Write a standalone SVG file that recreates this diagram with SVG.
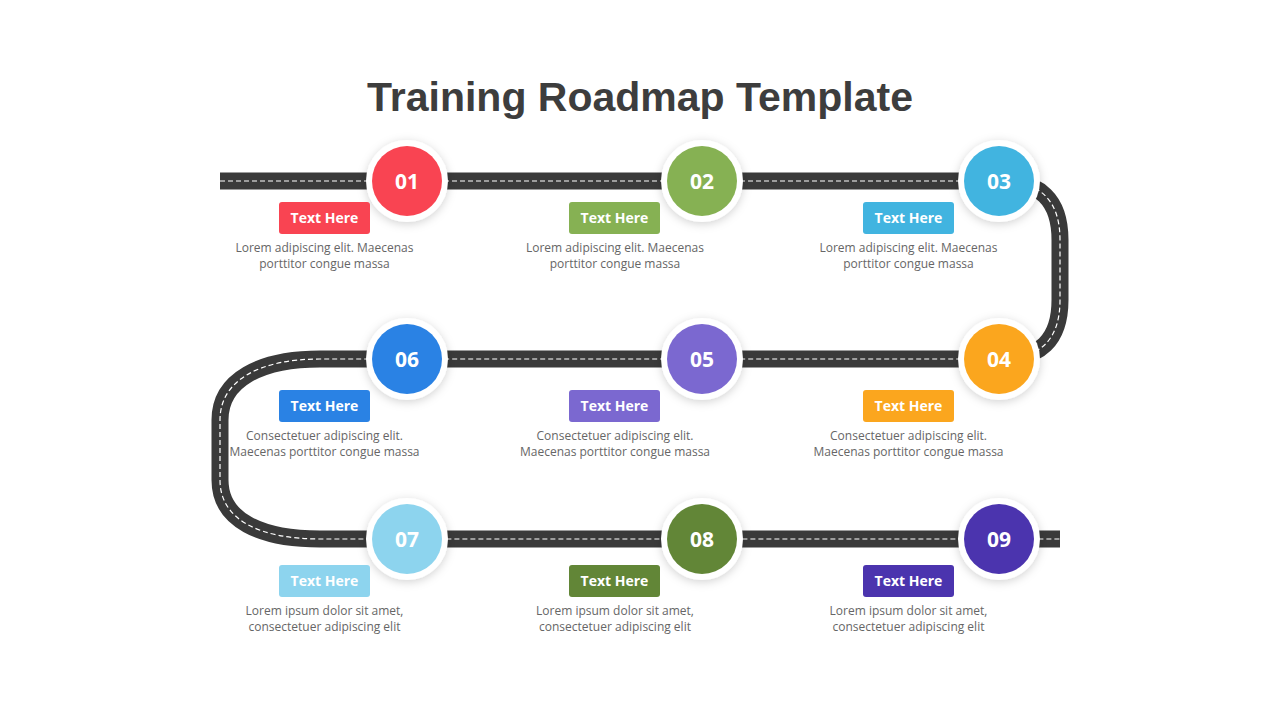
<svg xmlns="http://www.w3.org/2000/svg" width="1280" height="720" viewBox="0 0 1280 720">
<defs>
<filter id="sh" x="-50%" y="-50%" width="200%" height="200%"><feDropShadow dx="0" dy="2" stdDeviation="5" flood-color="#000" flood-opacity="0.18"/></filter>
<style>
.title{font-family:"Liberation Sans",Arial,sans-serif;font-weight:bold;font-size:41px;fill:#3d3d3d}
.num{font-family:"Open Sans","Noto Sans",sans-serif;font-weight:bold;font-size:21px;fill:#fff}
.lbl{font-family:"Open Sans","Noto Sans",sans-serif;font-weight:bold;font-size:14px;fill:#fff}
.desc{font-family:"Open Sans","Noto Sans",sans-serif;font-size:12px;fill:#666}
.ring{fill:#fff;filter:url(#sh)}
</style>
</defs>
<rect width="1280" height="720" fill="#fff"/>
<text class="title" x="640" y="111" text-anchor="middle">Training Roadmap Template</text>
<g id="connectors" fill="none">
<path id="road" d="M220 181 H1000 C1040 181 1060 200 1060 240 V300 C1060 340 1040 359 1000 359 H320 C260 359 220 380 220 420 V480 C220 520 260 539 320 539 H1060" stroke="#3a3a3a" stroke-width="17"/>
<path d="M220 181 H1000 C1040 181 1060 200 1060 240 V300 C1060 340 1040 359 1000 359 H320 C260 359 220 380 220 420 V480 C220 520 260 539 320 539 H1060" stroke="#fff" stroke-width="1.2" stroke-dasharray="5 3"/>
</g>
<g id="n1"><circle class="ring" cx="407" cy="181" r="41"/><circle cx="407" cy="181" r="35" fill="#F94452"/><text class="num" x="407" y="189" text-anchor="middle">01</text><rect x="279" y="202" width="91" height="32" rx="3" fill="#F94452"/><text class="lbl" x="324.5" y="223" text-anchor="middle">Text Here</text><text class="desc" x="324.5" y="252" text-anchor="middle">Lorem adipiscing elit. Maecenas</text><text class="desc" x="324.5" y="268" text-anchor="middle">porttitor congue massa</text></g>
<g id="n2"><circle class="ring" cx="702" cy="181" r="41"/><circle cx="702" cy="181" r="35" fill="#86B153"/><text class="num" x="702" y="189" text-anchor="middle">02</text><rect x="569" y="202" width="91" height="32" rx="3" fill="#86B153"/><text class="lbl" x="614.5" y="223" text-anchor="middle">Text Here</text><text class="desc" x="615" y="252" text-anchor="middle">Lorem adipiscing elit. Maecenas</text><text class="desc" x="615" y="268" text-anchor="middle">porttitor congue massa</text></g>
<g id="n3"><circle class="ring" cx="999" cy="181" r="41"/><circle cx="999" cy="181" r="35" fill="#41B4E0"/><text class="num" x="999" y="189" text-anchor="middle">03</text><rect x="863" y="202" width="91" height="32" rx="3" fill="#41B4E0"/><text class="lbl" x="908.5" y="223" text-anchor="middle">Text Here</text><text class="desc" x="908.5" y="252" text-anchor="middle">Lorem adipiscing elit. Maecenas</text><text class="desc" x="908.5" y="268" text-anchor="middle">porttitor congue massa</text></g>
<g id="n4"><circle class="ring" cx="999" cy="359" r="41"/><circle cx="999" cy="359" r="35" fill="#FBA61E"/><text class="num" x="999" y="367" text-anchor="middle">04</text><rect x="863" y="390" width="91" height="32" rx="3" fill="#FBA61E"/><text class="lbl" x="908.5" y="411" text-anchor="middle">Text Here</text><text class="desc" x="908.5" y="440" text-anchor="middle">Consectetuer  adipiscing elit.</text><text class="desc" x="908.5" y="456" text-anchor="middle">Maecenas porttitor congue massa</text></g>
<g id="n5"><circle class="ring" cx="702" cy="359" r="41"/><circle cx="702" cy="359" r="35" fill="#7B68D0"/><text class="num" x="702" y="367" text-anchor="middle">05</text><rect x="569" y="390" width="91" height="32" rx="3" fill="#7B68D0"/><text class="lbl" x="614.5" y="411" text-anchor="middle">Text Here</text><text class="desc" x="615" y="440" text-anchor="middle">Consectetuer  adipiscing elit.</text><text class="desc" x="615" y="456" text-anchor="middle">Maecenas porttitor congue massa</text></g>
<g id="n6"><circle class="ring" cx="407" cy="359" r="41"/><circle cx="407" cy="359" r="35" fill="#2A82E4"/><text class="num" x="407" y="367" text-anchor="middle">06</text><rect x="279" y="390" width="91" height="32" rx="3" fill="#2A82E4"/><text class="lbl" x="324.5" y="411" text-anchor="middle">Text Here</text><text class="desc" x="324.5" y="440" text-anchor="middle">Consectetuer  adipiscing elit.</text><text class="desc" x="324.5" y="456" text-anchor="middle">Maecenas porttitor congue massa</text></g>
<g id="n7"><circle class="ring" cx="407" cy="539" r="41"/><circle cx="407" cy="539" r="35" fill="#8DD4EE"/><text class="num" x="407" y="547" text-anchor="middle">07</text><rect x="279" y="565" width="91" height="32" rx="3" fill="#8DD4EE"/><text class="lbl" x="324.5" y="586" text-anchor="middle">Text Here</text><text class="desc" x="324.5" y="615" text-anchor="middle">Lorem ipsum dolor sit amet,</text><text class="desc" x="324.5" y="631" text-anchor="middle">consectetuer  adipiscing elit</text></g>
<g id="n8"><circle class="ring" cx="702" cy="539" r="41"/><circle cx="702" cy="539" r="35" fill="#628637"/><text class="num" x="702" y="547" text-anchor="middle">08</text><rect x="569" y="565" width="91" height="32" rx="3" fill="#628637"/><text class="lbl" x="614.5" y="586" text-anchor="middle">Text Here</text><text class="desc" x="615" y="615" text-anchor="middle">Lorem ipsum dolor sit amet,</text><text class="desc" x="615" y="631" text-anchor="middle">consectetuer  adipiscing elit</text></g>
<g id="n9"><circle class="ring" cx="999" cy="539" r="41"/><circle cx="999" cy="539" r="35" fill="#4B34AE"/><text class="num" x="999" y="547" text-anchor="middle">09</text><rect x="863" y="565" width="91" height="32" rx="3" fill="#4B34AE"/><text class="lbl" x="908.5" y="586" text-anchor="middle">Text Here</text><text class="desc" x="908.5" y="615" text-anchor="middle">Lorem ipsum dolor sit amet,</text><text class="desc" x="908.5" y="631" text-anchor="middle">consectetuer  adipiscing elit</text></g>
</svg>
